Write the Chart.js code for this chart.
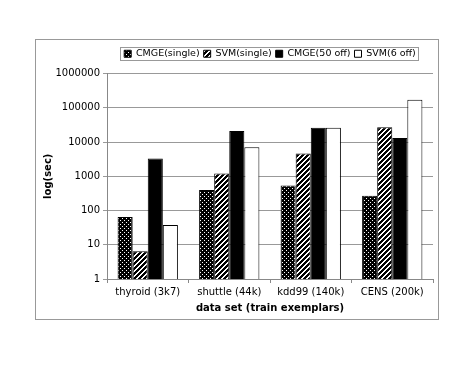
<!DOCTYPE html>
<html>
<head>
<meta charset="utf-8">
<script src="https://cdn.jsdelivr.net/npm/chart.js@4"></script>
<style>
  body { margin: 0; background: #fff; }
  #frame {
    position: absolute; left: 35px; top: 39px;
    width: 402px; height: 279px;
    border: 1px solid #999;
  }
</style>
</head>
<body>
<div id="frame"><canvas id="timeChart"></canvas></div>
<script>
// 資料 (從圖上讀出的估計值)
const categories = ['thyroid (3k7)', 'shuttle (44k)', 'kdd99 (140k)', 'CENS (200k)'];
const cmgeSingle = [65, 400, 540, 270];
const svmSingle = [6.5, 1200, 4600, 27000];
const cmge50off = [3300, 21000, 26000, 13000];
const svm6off = [38, 7000, 26000, 170000];
const yTicks = [1, 10, 100, 1000, 10000, 100000, 1000000];

// 小圖樣: 點狀 和 斜線
function dotPattern() {
    const c = document.createElement('canvas');
    c.width = 4; c.height = 4;
    const g = c.getContext('2d');
    g.fillStyle = '#000';
    g.fillRect(0, 0, 4, 4);
    g.fillStyle = '#fff';
    g.fillRect(0, 0, 1, 1);
    g.fillRect(2, 2, 1, 1);
    return g.createPattern(c, 'repeat');
}

function stripePattern() {
    const n = 5;
    const c = document.createElement('canvas');
    c.width = n; c.height = n;
    const g = c.getContext('2d');
    g.fillStyle = '#fff';
    g.fillRect(0, 0, n, n);
    g.fillStyle = '#000';
    for (let x = 0; x < n; x++) {
        for (let y = 0; y < n; y++) {
            if ((x + y) % n < 3) g.fillRect(x, y, 1, 1);
        }
    }
    return g.createPattern(c, 'repeat');
}

// 圖例: 置中於繪圖區上方, 加外框
const legendBox = {
    id: 'legendBox',
    beforeDraw(chart) {
        const l = chart.legend;
        const h = l.bottom - l.top;
        l.left = chart.chartArea.left;
        l.right = chart.chartArea.right;
        l.top = 5;
        l.bottom = l.top + h;
    },
    afterDraw(chart) {
        const l = chart.legend;
        const ctx = chart.ctx;
        const pad = l.options.labels.padding;
        const lw = l.lineWidths[0];
        const x0 = (l.left + pad + l.right - lw) / 2;
        const x1 = x0 + lw - pad;
        ctx.save();
        ctx.strokeStyle = '#999';
        ctx.lineWidth = 1;
        ctx.strokeRect(Math.round(x0) - 3.5, l.top + 2.5, Math.round(x1 - x0) + 6, 13);
        ctx.restore();
    }
};

const ctx = document.getElementById('timeChart').getContext('2d');
const font = { family: 'DejaVu Sans', size: 10 };

new Chart(ctx, {
    type: 'bar',
    data: {
        labels: categories,
        datasets: [
            { label: 'CMGE(single)', data: cmgeSingle, backgroundColor: dotPattern() },
            { label: 'SVM(single)', data: svmSingle, backgroundColor: stripePattern() },
            { label: 'CMGE(50 off)', data: cmge50off, backgroundColor: '#000' },
            { label: 'SVM(6 off)', data: svm6off, backgroundColor: '#fff' }
        ].map(d => Object.assign(d, {
            borderColor: '#000',
            borderWidth: 1,
            categoryPercentage: 0.74,
            barPercentage: 1.0
        }))
    },
    options: {
        responsive: true,
        maintainAspectRatio: false,
        animation: false,
        layout: { padding: { left: 4, right: 5, top: 10, bottom: 4 } },
        plugins: {
            legend: {
                position: 'top',
                labels: {
                    font: { family: 'DejaVu Sans', size: 9.5 },
                    color: '#000',
                    boxWidth: 7,
                    boxHeight: 7,
                    padding: 4,
                    useBorderRadius: false
                }
            },
            tooltip: { enabled: false }
        },
        scales: {
            x: {
                grid: { offset: true, drawOnChartArea: false, tickLength: 4, color: '#888' },
                border: { color: '#888' },
                ticks: { font: font, color: '#000', maxRotation: 0 },
                title: { display: true, text: 'data set (train exemplars)', color: '#000',
                         font: { family: 'DejaVu Sans', size: 10, weight: 'bold' }, padding: 1 }
            },
            y: {
                type: 'logarithmic',
                min: 1,
                max: 1000000,
                afterBuildTicks: scale => { scale.ticks = yTicks.map(v => ({ value: v })); },
                afterFit: scale => { scale.width = 67; },
                grid: { color: '#999', tickLength: 4 },
                border: { color: '#888' },
                ticks: { font: font, color: '#000', callback: v => String(v) },
                title: { display: true, text: 'log(sec)', color: '#000',
                         font: { family: 'DejaVu Sans', size: 10, weight: 'bold' }, padding: 2 }
            }
        }
    },
    plugins: [legendBox]
});
</script>
</body>
</html>
